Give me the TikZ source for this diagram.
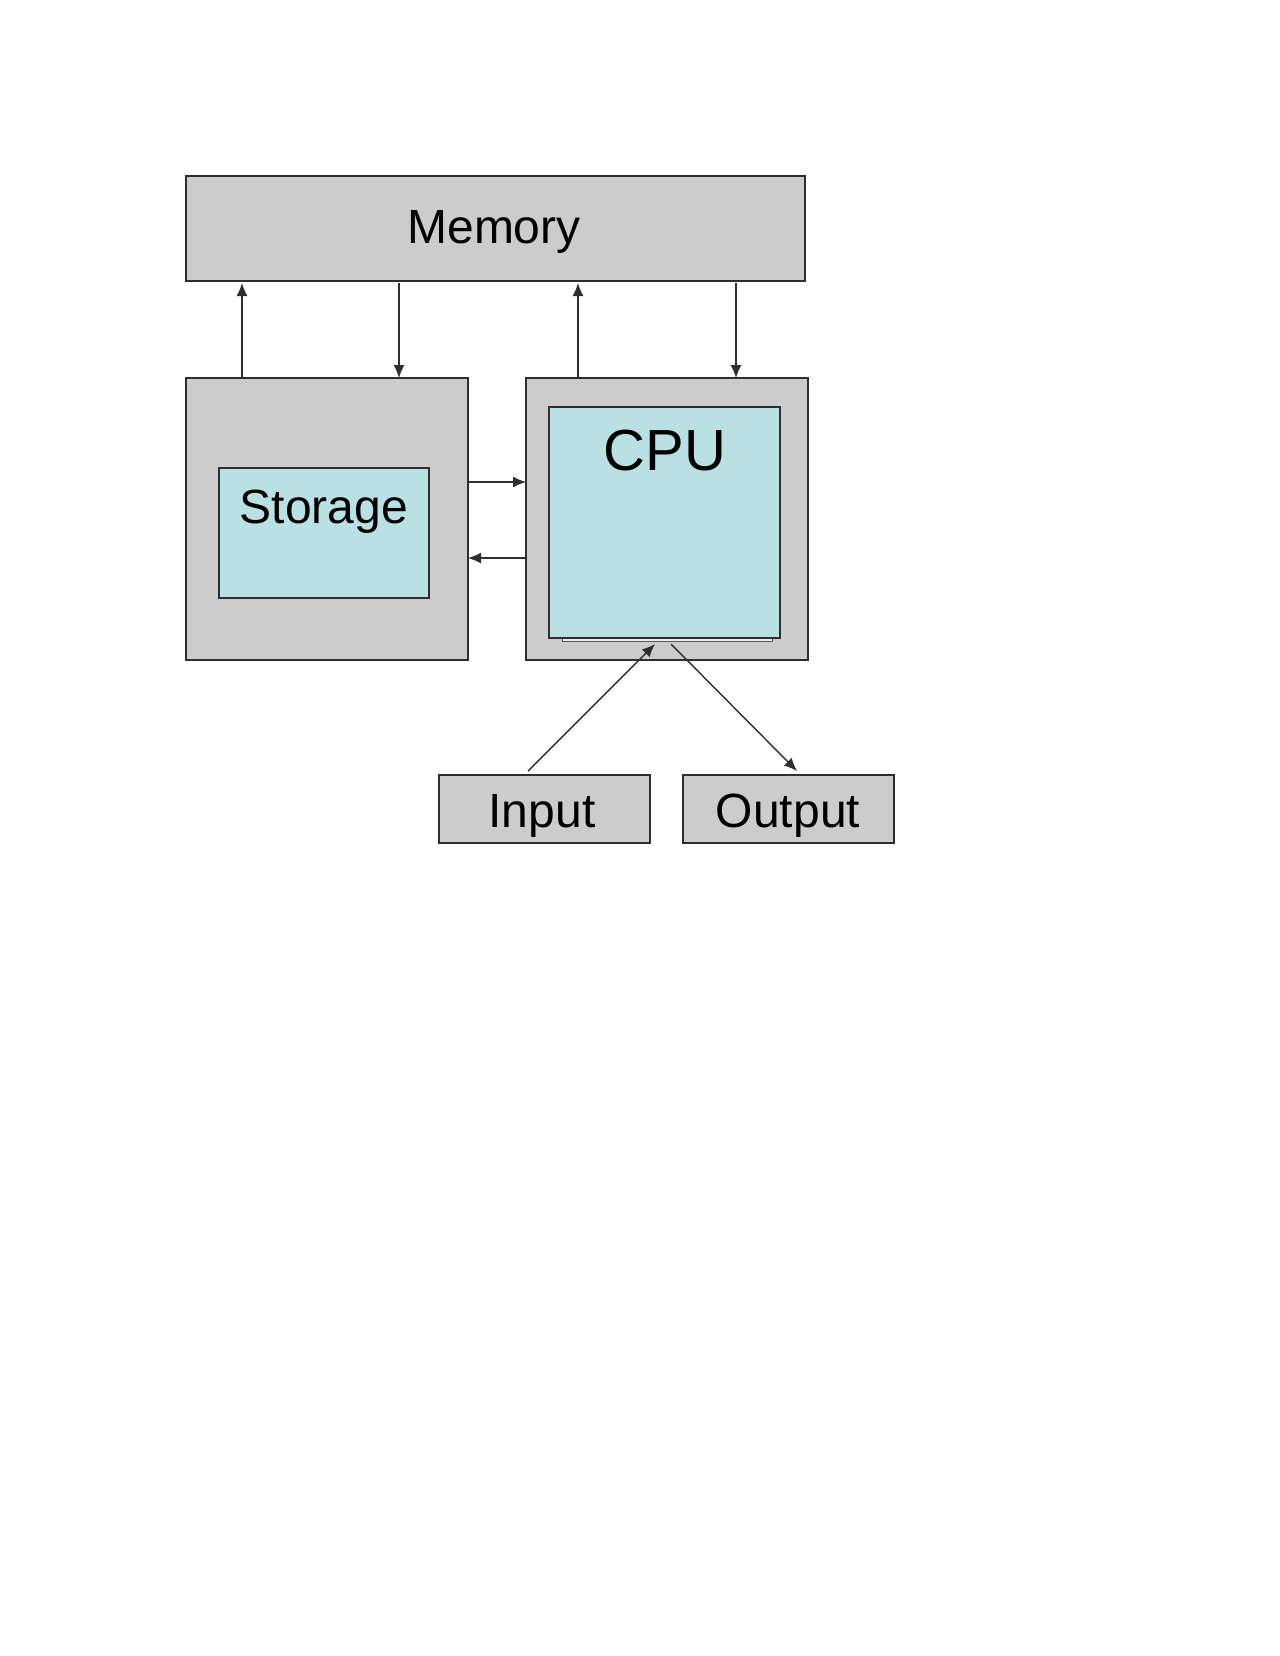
\documentclass[tikz,border=0pt]{standalone}
\usepackage{fontspec}
\setmainfont{Liberation Sans}
\usetikzlibrary{arrows.meta,calc}
\definecolor{boxgray}{HTML}{CCCCCC}
\definecolor{cpublue}{HTML}{B9E0E3}
\definecolor{edge}{HTML}{2E2E2E}
\begin{document}
\begin{tikzpicture}[x=0.5pt,y=-0.5pt,
  box/.style={draw=edge, line width=0.8pt, fill=boxgray, anchor=north west, inner sep=0pt, outer sep=0pt},
  inbox/.style={box, fill=cpublue},
  lbl/.style={font=\fontsize{24}{28}\selectfont, inner sep=0pt},
  arr/.style={draw=edge, line width=0.7pt, -{Latex[length=6.5pt,width=5.5pt]}}]
\useasboundingbox (0,0) rectangle (1280,1656);
\fill[white] (0,0) rectangle (1280,1656);
% boxes
\node[box, minimum width=309.5pt, minimum height=52.5pt] (mem) at (186,176) {};
\node[lbl, anchor=base] (memt) at (494,243) {Memory};
\node[box, minimum width=141pt, minimum height=141pt] (stor) at (186,378) {};
\node[inbox, minimum width=105pt, minimum height=65pt] (storin) at (219,468) {};
\node[lbl, anchor=base] (stort) at (324,523) {Storage};
\node[box, minimum width=141pt, minimum height=141pt] (cpu) at (526,378) {};
\node[box, fill=gray!15, draw=edge!80, line width=0.5pt, minimum width=105pt, minimum height=115.5pt] (cpush) at (562,410) {};
\node[inbox, minimum width=115.5pt, minimum height=115.5pt] (cpuin) at (549,407) {};
\node[lbl, font=\fontsize{29}{34}\selectfont, anchor=base] (cput) at (665,470) {CPU};
\node[box, minimum width=105.5pt, minimum height=34pt] (inp) at (439,775) {};
\node[lbl, anchor=base] (inpt) at (542,827) {Input};
\node[box, minimum width=105.5pt, minimum height=34pt] (outp) at (683,775) {};
\node[lbl, anchor=base] (outpt) at (788,827) {Output};
% memory connectors
\coordinate (a1) at ([xshift=28pt]stor.north west);
\coordinate (a2) at ([xshift=106.5pt]stor.north west);
\coordinate (a3) at ([xshift=26pt]cpu.north west);
\coordinate (a4) at ([xshift=105pt]cpu.north west);
\draw[arr, shorten >=1pt] (a1) -- (a1 |- mem.south);
\draw[arr, shorten <=1pt] (a2 |- mem.south) -- (a2);
\draw[arr, shorten >=1pt] (a3) -- (a3 |- mem.south);
\draw[arr, shorten <=1pt] (a4 |- mem.south) -- (a4);
% storage <-> cpu
\coordinate (h1) at ([yshift=-52pt]stor.north east);
\coordinate (h2) at ([yshift=-90pt]stor.north east);
\draw[arr] (h1) -- (h1 -| cpu.west);
\draw[arr] (h2 -| cpu.west) -- (h2);
% input / output
\coordinate (i1) at ([xshift=44.5pt,yshift=2pt]inp.north west);
\coordinate (i2) at ([xshift=46.5pt,yshift=-1.5pt]cpush.south west);
\coordinate (o1) at ([xshift=54.5pt,yshift=-1.5pt]cpush.south west);
\coordinate (o2) at ([xshift=57pt,yshift=2pt]outp.north west);
\draw[arr] (i1) -- (i2);
\draw[arr] (o1) -- (o2);
\end{tikzpicture}
\end{document}
